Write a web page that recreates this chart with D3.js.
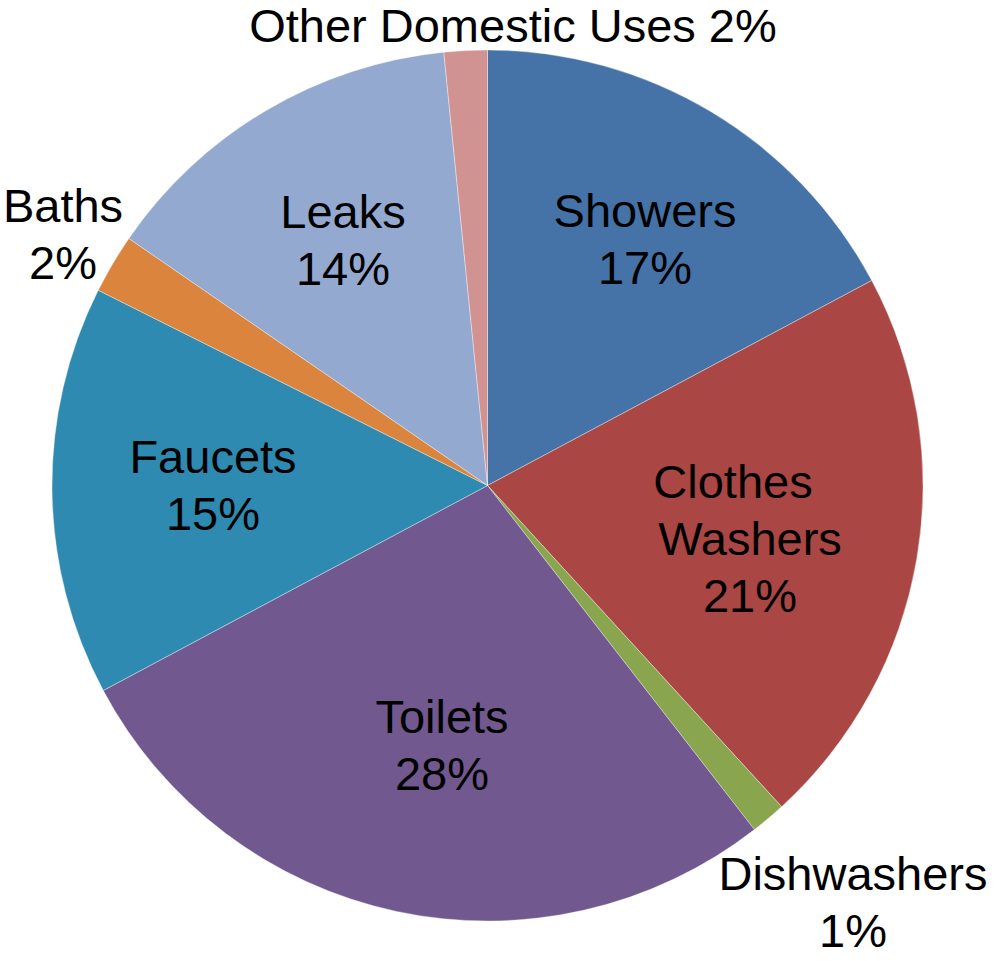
<!DOCTYPE html>
<html>
<head>
<meta charset="utf-8">
<script src="https://cdn.jsdelivr.net/npm/d3@7"></script>
<style>
  body { margin: 0; background: #fff; }
  svg { display: block; }
  .label { font-family: "Liberation Sans", Arial, sans-serif; font-size: 47px; fill: #000; }
</style>
</head>
<body>
<svg id="pie" width="994" height="961"></svg>
<script>
// share of domestic water use, clockwise from 12 o'clock
var categories = ["Showers", "Clothes Washers", "Dishwashers", "Toilets", "Faucets", "Baths", "Leaks", "Other Domestic Uses"]
var values = [17.2, 21.0, 1.3, 27.7, 15.2, 2.2, 13.8, 1.6]
var pctLabels = ["17%", "21%", "1%", "28%", "15%", "2%", "14%", "2%"]
var colors = ["#4572A7", "#AA4643", "#89A54E", "#71588F", "#2E8AB0", "#DB843D", "#93A9CF", "#D19392"]

// how each label is split into lines
var labelLines = [
    ["Showers", "17%"],
    ["Clothes", "Washers", "21%"],
    ["Dishwashers", "1%"],
    ["Toilets", "28%"],
    ["Faucets", "15%"],
    ["Baths", "2%"],
    ["Leaks", "14%"],
    ["Other Domestic Uses 2%"]
]
// label anchor: centre x, first baseline y
var labelPos = [
    [645, 227], [750, 498], [853, 890], [442, 733],
    [213, 473], [63, 222], [343, 228], [513, 42]
]

var drawPie = function() {
    var cx = 487.5, cy = 485.5, radius = 435.5
    var lineH = 57

    var svg = d3.select("#pie")
    var g = svg.append("g")
        .attr("transform", "translate(" + cx + "," + cy + ")")

    var color = d3.scaleOrdinal()
        .domain(categories)
        .range(colors)

    var pie = d3.pie()
        .sort(null)
        .value(function(d, i) { return values[i] })

    var arc = d3.arc()
        .innerRadius(0)
        .outerRadius(radius)

    g.selectAll("path")
        .data(pie(categories))
        .enter()
        .append("path")
            .attr("d", arc)
            .attr("fill", function(d) { return color(d.data) })
            .attr("stroke", "rgba(255,255,255,0.45)")
            .attr("stroke-width", 0.8)

    var labels = svg.selectAll(".label")
        .data(categories)
        .enter()
        .append("text")
            .attr("class", "label")
            .attr("text-anchor", "middle")
            .attr("x", function(d, i) { return labelPos[i][0] })
            .attr("y", function(d, i) { return labelPos[i][1] })

    labels.each(function(d, i) {
        var t = d3.select(this)
        labelLines[i].forEach(function(line, j) {
            // Excel nudged the "Clothes" line a bit left
            var dx = (i == 1 && j == 0) ? -17 : 0
            t.append("tspan")
                .attr("x", labelPos[i][0] + dx)
                .attr("y", labelPos[i][1] + j * lineH)
                .text(line)
        })
    })
}

drawPie()
</script>
</body>
</html>
